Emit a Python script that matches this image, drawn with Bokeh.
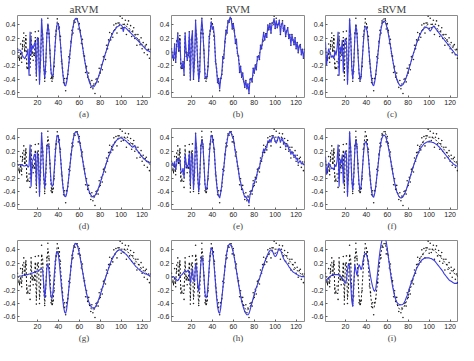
from bokeh.plotting import figure
from bokeh.layouts import column, row
from bokeh.models import Range1d, FixedTicker
from bokeh.embed import file_html
from bokeh.resources import INLINE

x = list(range(1, 129))

truth = [0.00, 0.00, -0.13, 0.00, -0.11, 0.18, 0.22, 0.00, 0.25, -0.26,
         -0.21, -0.25, -0.25, 0.24, -0.07, 0.00, -0.06, 0.22, -0.36, 0.21,
         0.21, -0.34, -0.15, 0.34, 0.27, -0.19, -0.41, -0.18, 0.22, 0.42,
         0.31, 0.00, -0.30, -0.44, -0.37, -0.15, 0.11, 0.34, 0.45, 0.44,
         0.32, 0.14, -0.07, -0.26, -0.40, -0.47, -0.48, -0.42, -0.32, -0.18,
         -0.03, 0.12, 0.25, 0.36, 0.44, 0.48, 0.50, 0.48, 0.44, 0.37,
         0.29, 0.20, 0.10, 0.00, -0.10, -0.19, -0.27, -0.34, -0.39, -0.44,
         -0.47, -0.49, -0.50, -0.49, -0.48, -0.45, -0.42, -0.38, -0.34, -0.29,
         -0.23, -0.18, -0.13, -0.07, -0.02, 0.03, 0.08, 0.13, 0.18, 0.22,
         0.25, 0.29, 0.32, 0.34, 0.36, 0.38, 0.39, 0.40, 0.41, 0.41,
         0.41, 0.41, 0.40, 0.40, 0.38, 0.37, 0.36, 0.34, 0.33, 0.31,
         0.29, 0.27, 0.25, 0.23, 0.21, 0.19, 0.17, 0.15, 0.13, 0.11,
         0.09, 0.08, 0.06, 0.05, 0.03, 0.02, 0.01, 0.00]

obs = [0.05, -0.08, -0.10, 0.12, -0.15, 0.08, 0.28, 0.02, 0.18, -0.17,
       -0.24, -0.14, -0.34, 0.28, 0.00, -0.12, -0.05, 0.30, -0.41, 0.19,
       0.31, -0.40, -0.12, 0.47, 0.19, -0.14, -0.43, -0.29, 0.28, 0.50,
       0.27, 0.02, -0.39, -0.37, -0.36, -0.21, 0.23, 0.31, 0.49, 0.34,
       0.37, 0.23, -0.14, -0.24, -0.45, -0.39, -0.57, -0.39, -0.33, -0.07,
       -0.09, 0.16, 0.32, 0.28, 0.46, 0.44, 0.56, 0.49, 0.34, 0.42,
       0.32, 0.13, 0.19, -0.02, -0.06, -0.30, -0.21, -0.37, -0.31, -0.43,
       -0.52, -0.42, -0.54, -0.47, -0.61, -0.40, -0.39, -0.44, -0.24, -0.31,
       -0.19, -0.26, -0.07, -0.06, -0.11, 0.10, 0.05, 0.18, 0.29, 0.18,
       0.27, 0.22, 0.40, 0.33, 0.42, 0.28, 0.43, 0.43, 0.53, 0.35,
       0.50, 0.36, 0.41, 0.47, 0.26, 0.41, 0.46, 0.31, 0.39, 0.23,
       0.31, 0.36, 0.20, 0.26, 0.10, 0.26, 0.18, 0.11, 0.21, 0.05,
       0.14, -0.01, 0.09, 0.11, -0.04, 0.04, -0.09, 0.04]

fit_a = [0.02, 0.03, 0.03, 0.02, -0.02, -0.06, -0.08, -0.10, -0.06, -0.04,
         0.05, -0.35, 0.30, -0.05, 0.10, 0.05, 0.12, 0.15, -0.35, 0.22,
         0.18, -0.48, -0.12, 0.50, 0.25, -0.20, -0.38, -0.15, 0.24, 0.42,
         0.30, 0.00, -0.28, -0.36, -0.33, -0.13, 0.12, 0.33, 0.42, 0.42,
         0.31, 0.13, -0.08, -0.27, -0.42, -0.49, -0.50, -0.44, -0.33, -0.18,
         -0.03, 0.12, 0.26, 0.37, 0.45, 0.49, 0.50, 0.48, 0.43, 0.36,
         0.28, 0.19, 0.09, -0.01, -0.11, -0.20, -0.28, -0.35, -0.41, -0.46,
         -0.49, -0.51, -0.52, -0.51, -0.49, -0.46, -0.42, -0.38, -0.33, -0.28,
         -0.23, -0.17, -0.12, -0.07, -0.02, 0.03, 0.08, 0.13, 0.17, 0.21,
         0.25, 0.28, 0.31, 0.33, 0.35, 0.37, 0.38, 0.39, 0.40, 0.40,
         0.38, 0.30, 0.37, 0.36, 0.345, 0.33, 0.315, 0.30, 0.285, 0.27,
         0.25, 0.235, 0.22, 0.20, 0.185, 0.17, 0.15, 0.135, 0.12, 0.10,
         0.085, 0.07, 0.05, 0.035, 0.02, 0.02, 0.01, 0.00]

fit_b = [0.05, -0.08, -0.10, 0.12, -0.15, 0.08, 0.28, 0.02, 0.18, -0.17,
         -0.24, -0.14, -0.34, 0.28, 0.00, -0.12, -0.05, 0.30, -0.41, 0.19,
         0.31, -0.40, -0.12, 0.47, 0.19, -0.14, -0.43, -0.29, 0.28, 0.50,
         0.27, 0.02, -0.39, -0.37, -0.36, -0.21, 0.23, 0.31, 0.45, 0.34,
         0.37, 0.23, -0.14, -0.24, -0.45, -0.39, -0.55, -0.39, -0.33, -0.07,
         -0.09, 0.16, 0.32, 0.28, 0.46, 0.44, 0.52, 0.49, 0.34, 0.42,
         0.32, 0.13, 0.19, -0.02, -0.06, -0.30, -0.21, -0.37, -0.31, -0.43,
         -0.52, -0.42, -0.54, -0.47, -0.61, -0.40, -0.39, -0.44, -0.24, -0.31,
         -0.19, -0.26, -0.07, -0.06, -0.11, 0.10, 0.05, 0.18, 0.29, 0.18,
         0.27, 0.22, 0.40, 0.33, 0.42, 0.28, 0.43, 0.43, 0.50, 0.35,
         0.47, 0.36, 0.41, 0.47, 0.26, 0.41, 0.44, 0.31, 0.39, 0.23,
         0.31, 0.36, 0.20, 0.26, 0.10, 0.26, 0.18, 0.11, 0.21, 0.05,
         0.14, -0.01, 0.09, 0.11, -0.04, 0.04, -0.09, 0.04]

fit_c = [0.15, -0.20, -0.05, 0.05, 0.00, -0.04, -0.08, -0.05, -0.10, 0.02,
         -0.05, 0.05, 0.30, -0.35, 0.08, 0.00, 0.18, -0.30, 0.10, 0.20,
         0.15, -0.48, -0.10, 0.50, 0.25, -0.20, -0.40, -0.18, 0.22, 0.40,
         0.28, -0.02, -0.30, -0.42, -0.35, -0.13, 0.10, 0.30, 0.38, 0.37,
         0.28, 0.12, -0.08, -0.26, -0.40, -0.48, -0.50, -0.44, -0.33, -0.19,
         -0.04, 0.11, 0.24, 0.34, 0.41, 0.45, 0.46, 0.44, 0.40, 0.34,
         0.27, 0.18, 0.09, -0.01, -0.10, -0.19, -0.27, -0.34, -0.40, -0.44,
         -0.47, -0.49, -0.50, -0.49, -0.48, -0.45, -0.42, -0.38, -0.33, -0.28,
         -0.23, -0.18, -0.12, -0.07, -0.02, 0.03, 0.08, 0.13, 0.17, 0.21,
         0.25, 0.28, 0.31, 0.33, 0.35, 0.36, 0.37, 0.36, 0.35, 0.33,
         0.31, 0.33, 0.36, 0.38, 0.37, 0.35, 0.33, 0.31, 0.29, 0.27,
         0.25, 0.23, 0.21, 0.19, 0.17, 0.15, 0.13, 0.11, 0.09, 0.07,
         0.05, 0.03, 0.01, -0.01, -0.03, -0.04, -0.05, -0.05]

fit_d = [0.00, 0.00, 0.00, 0.00, 0.00, -0.01, -0.02, -0.02, -0.01, 0.00,
         -0.04, -0.02, 0.30, -0.33, 0.05, 0.08, 0.15, 0.16, -0.30, 0.18,
         0.10, -0.48, -0.05, 0.48, 0.22, -0.15, -0.35, -0.10, 0.26, 0.30,
         0.28, 0.02, -0.25, -0.33, -0.30, -0.10, 0.15, 0.35, 0.44, 0.43,
         0.31, 0.13, -0.08, -0.27, -0.41, -0.47, -0.48, -0.43, -0.32, -0.18,
         -0.03, 0.12, 0.25, 0.36, 0.44, 0.48, 0.49, 0.48, 0.43, 0.36,
         0.28, 0.19, 0.09, -0.01, -0.10, -0.19, -0.27, -0.33, -0.38, -0.42,
         -0.45, -0.47, -0.48, -0.47, -0.46, -0.43, -0.40, -0.36, -0.32, -0.27,
         -0.22, -0.17, -0.12, -0.07, -0.02, 0.03, 0.08, 0.12, 0.16, 0.20,
         0.24, 0.27, 0.30, 0.33, 0.35, 0.37, 0.38, 0.39, 0.40, 0.40,
         0.39, 0.38, 0.37, 0.36, 0.35, 0.33, 0.32, 0.30, 0.29, 0.27,
         0.26, 0.27, 0.29, 0.25, 0.22, 0.20, 0.18, 0.16, 0.14, 0.12,
         0.10, 0.09, 0.07, 0.06, 0.05, 0.04, 0.03, 0.02]

fit_e = [-0.02, 0.03, -0.03, 0.05, -0.08, 0.02, 0.10, 0.05, 0.08, -0.10,
         -0.12, -0.05, -0.20, 0.15, 0.02, -0.05, 0.00, 0.17, -0.30, 0.15,
         0.17, -0.38, -0.10, 0.47, 0.22, -0.15, -0.40, -0.20, 0.25, 0.38,
         0.30, 0.02, -0.30, -0.38, -0.33, -0.15, 0.12, 0.32, 0.44, 0.42,
         0.33, 0.18, -0.10, -0.27, -0.42, -0.46, -0.50, -0.42, -0.30, -0.14,
         -0.04, 0.13, 0.27, 0.34, 0.44, 0.46, 0.50, 0.47, 0.42, 0.40,
         0.30, 0.18, 0.12, 0.00, -0.09, -0.22, -0.26, -0.35, -0.37, -0.44,
         -0.49, -0.47, -0.52, -0.52, -0.58, -0.45, -0.40, -0.40, -0.28, -0.28,
         -0.21, -0.22, -0.10, -0.06, -0.06, 0.07, 0.07, 0.16, 0.24, 0.20,
         0.25, 0.25, 0.36, 0.34, 0.38, 0.33, 0.40, 0.42, 0.40, 0.35,
         0.32, 0.36, 0.42, 0.40, 0.33, 0.38, 0.40, 0.32, 0.34, 0.26,
         0.28, 0.30, 0.22, 0.22, 0.15, 0.20, 0.16, 0.12, 0.15, 0.08,
         0.10, 0.02, 0.04, 0.06, 0.01, 0.02, 0.00, 0.00]

fit_f = [0.12, -0.15, -0.05, 0.03, 0.00, -0.03, -0.06, -0.05, -0.08, 0.00,
         -0.03, 0.05, 0.30, -0.33, 0.08, 0.02, 0.15, -0.28, 0.10, 0.20,
         0.15, -0.48, -0.10, 0.50, 0.25, -0.20, -0.38, -0.16, 0.22, 0.38,
         0.27, -0.02, -0.28, -0.38, -0.32, -0.12, 0.10, 0.28, 0.34, 0.34,
         0.26, 0.11, -0.08, -0.26, -0.40, -0.47, -0.49, -0.43, -0.32, -0.18,
         -0.04, 0.11, 0.24, 0.34, 0.40, 0.43, 0.44, 0.43, 0.39, 0.33,
         0.26, 0.18, 0.09, -0.01, -0.10, -0.19, -0.27, -0.34, -0.40, -0.44,
         -0.47, -0.49, -0.50, -0.49, -0.48, -0.45, -0.42, -0.38, -0.33, -0.28,
         -0.23, -0.18, -0.12, -0.07, -0.02, 0.03, 0.07, 0.11, 0.15, 0.19,
         0.22, 0.25, 0.27, 0.29, 0.31, 0.32, 0.33, 0.34, 0.34, 0.34,
         0.34, 0.34, 0.33, 0.33, 0.32, 0.31, 0.30, 0.29, 0.27, 0.26,
         0.24, 0.22, 0.20, 0.18, 0.16, 0.14, 0.12, 0.10, 0.08, 0.06,
         0.04, 0.03, 0.01, 0.00, -0.01, -0.02, -0.02, -0.02]

fit_g = [0.00, 0.00, 0.01, 0.01, 0.01, 0.02, 0.02, 0.02, 0.03, 0.03,
         0.03, 0.04, 0.04, 0.05, 0.05, 0.06, 0.06, 0.07, 0.08, 0.08,
         0.09, 0.10, 0.11, 0.12, 0.10, -0.10, -0.32, -0.15, 0.12, 0.20,
         0.10, -0.15, -0.30, -0.33, -0.20, 0.00, 0.20, 0.34, 0.38, 0.33,
         0.20, 0.02, -0.15, -0.32, -0.45, -0.53, -0.55, -0.48, -0.35, -0.18,
         -0.02, 0.14, 0.28, 0.39, 0.46, 0.50, 0.49, 0.47, 0.42, 0.35,
         0.27, 0.18, 0.09, 0.00, -0.09, -0.17, -0.25, -0.32, -0.37, -0.41,
         -0.44, -0.46, -0.47, -0.47, -0.46, -0.43, -0.40, -0.36, -0.32, -0.27,
         -0.22, -0.17, -0.12, -0.07, -0.02, 0.03, 0.08, 0.12, 0.17, 0.21,
         0.25, 0.28, 0.31, 0.34, 0.36, 0.38, 0.39, 0.40, 0.40, 0.39,
         0.38, 0.37, 0.36, 0.34, 0.33, 0.31, 0.29, 0.27, 0.25, 0.23,
         0.21, 0.19, 0.17, 0.15, 0.14, 0.12, 0.11, 0.09, 0.08, 0.07,
         0.06, 0.05, 0.04, 0.04, 0.03, 0.02, 0.02, 0.01]

fit_h = [-0.02, 0.00, 0.00, -0.02, -0.03, -0.05, -0.06, -0.04, 0.00, 0.02,
         0.03, 0.05, 0.07, 0.08, 0.07, 0.08, 0.10, 0.05, -0.10, 0.02,
         0.12, -0.05, -0.08, 0.20, 0.12, -0.10, -0.22, -0.05, 0.20, 0.30,
         0.22, 0.00, -0.25, -0.32, -0.28, -0.10, 0.15, 0.35, 0.43, 0.40,
         0.28, 0.10, -0.10, -0.30, -0.45, -0.53, -0.55, -0.47, -0.33, -0.18,
         -0.02, 0.13, 0.27, 0.38, 0.45, 0.48, 0.48, 0.46, 0.42, 0.36,
         0.28, 0.19, 0.09, -0.01, -0.11, -0.20, -0.29, -0.37, -0.43, -0.48,
         -0.52, -0.55, -0.57, -0.57, -0.55, -0.50, -0.44, -0.38, -0.32, -0.26,
         -0.21, -0.16, -0.12, -0.07, -0.03, 0.02, 0.07, 0.12, 0.17, 0.22,
         0.26, 0.30, 0.34, 0.37, 0.39, 0.40, 0.39, 0.36, 0.32, 0.30,
         0.31, 0.35, 0.40, 0.42, 0.40, 0.36, 0.31, 0.27, 0.24, 0.22,
         0.20, 0.18, 0.15, 0.13, 0.11, 0.09, 0.07, 0.06, 0.05, 0.04,
         0.03, 0.02, 0.01, 0.01, 0.00, 0.00, 0.00, 0.00]

fit_i = [-0.06, -0.05, -0.03, -0.02, 0.00, 0.01, 0.02, 0.03, 0.03, 0.03,
         0.03, 0.03, 0.03, 0.02, 0.01, 0.00, -0.02, -0.05, -0.08, -0.10,
         -0.05, 0.10, 0.20, 0.15, -0.10, -0.35, -0.45, -0.10, 0.18, 0.10,
         0.02, 0.10, 0.18, 0.15, 0.10, 0.15, 0.25, 0.32, 0.35, 0.33,
         0.28, 0.20, 0.10, 0.00, -0.08, -0.15, -0.20, -0.22, -0.18, -0.05,
         0.10, 0.25, 0.38, 0.48, 0.55, 0.59, 0.60, 0.58, 0.52, 0.42,
         0.30, 0.18, 0.06, -0.05, -0.14, -0.22, -0.29, -0.34, -0.38, -0.40,
         -0.41, -0.42, -0.42, -0.42, -0.41, -0.39, -0.36, -0.32, -0.28, -0.23,
         -0.18, -0.13, -0.08, -0.04, 0.00, 0.04, 0.08, 0.12, 0.15, 0.18,
         0.21, 0.23, 0.25, 0.26, 0.27, 0.28, 0.28, 0.28, 0.28, 0.28,
         0.27, 0.27, 0.26, 0.25, 0.24, 0.22, 0.20, 0.18, 0.16, 0.14,
         0.12, 0.10, 0.08, 0.05, 0.03, 0.01, -0.01, -0.03, -0.05, -0.06,
         -0.07, -0.08, -0.09, -0.10, -0.10, -0.10, -0.10, -0.10]

titles = ["aRVM", "RVM", "sRVM"]
panel_labels = ["(a)", "(b)", "(c)", "(d)", "(e)", "(f)", "(g)", "(h)", "(i)"]
xticks = [20, 40, 60, 80, 100, 120]
yticks = [-0.6, -0.4, -0.2, 0, 0.2, 0.4]
ytick_labels = ["-0.6", "-0.4", "-0.2", "0", "0.2", "0.4"]

fits = [fit_a, fit_b, fit_c, fit_d, fit_e, fit_f, fit_g, fit_h, fit_i]

col_widths = [151, 154, 153]
left_borders = [16, 20, 20]
right_borders = [1, 1, 0]
row_heights = [121, 112, 112]

BLUE = "#3c3ce2"


def make(i):
    r, c = divmod(i, 3)
    p = figure(width=col_widths[c], height=row_heights[r],
               output_backend="svg", toolbar_location=None,
               x_range=Range1d(1, 128), y_range=Range1d(-0.67, 0.54),
               title=(titles[c] if r == 0 else None),
               min_border_left=left_borders[c], min_border_right=right_borders[c],
               min_border_top=(0 if r == 0 else 7), min_border_bottom=0)
    if r == 0:
        p.title.text_font = "Liberation Serif"
        p.title.text_font_size = "11px"
        p.title.text_font_style = "normal"
        p.title.align = "center"
        p.title.standoff = 1
    p.grid.visible = False
    p.outline_line_color = "#8a8a8a"
    p.background_fill_color = "white"
    p.border_fill_color = "white"
    for ax in (p.xaxis[0], p.yaxis[0]):
        ax.axis_line_color = None
        ax.major_tick_in = 2
        ax.major_tick_out = 0
        ax.major_tick_line_color = "#606060"
        ax.minor_tick_line_color = None
        ax.major_label_text_font = "Liberation Sans"
        ax.major_label_text_font_size = "7px"
        ax.major_label_text_color = "#222222"
        ax.major_label_standoff = 2
    p.xaxis.ticker = FixedTicker(ticks=xticks)
    p.yaxis.ticker = FixedTicker(ticks=yticks)
    p.yaxis.major_label_overrides = dict(zip(yticks, ytick_labels))
    p.xaxis.axis_label = panel_labels[i]
    p.xaxis.axis_label_text_font = "Liberation Serif"
    p.xaxis.axis_label_text_font_size = "9px"
    p.xaxis.axis_label_text_font_style = "normal"
    p.xaxis.axis_label_standoff = 1

    p.scatter(x, obs, size=1.6, fill_color="#222222", line_color=None)
    p.line(x, truth, line_dash="2 2", color="black", line_width=0.9)
    p.line(x, fits[i], color=BLUE, line_width=1.1)
    return p


plots = [make(i) for i in range(9)]
layout = column(row(*plots[0:3]), row(*plots[3:6]), row(*plots[6:9]))

open("out.html", "w").write(file_html(layout, INLINE))
